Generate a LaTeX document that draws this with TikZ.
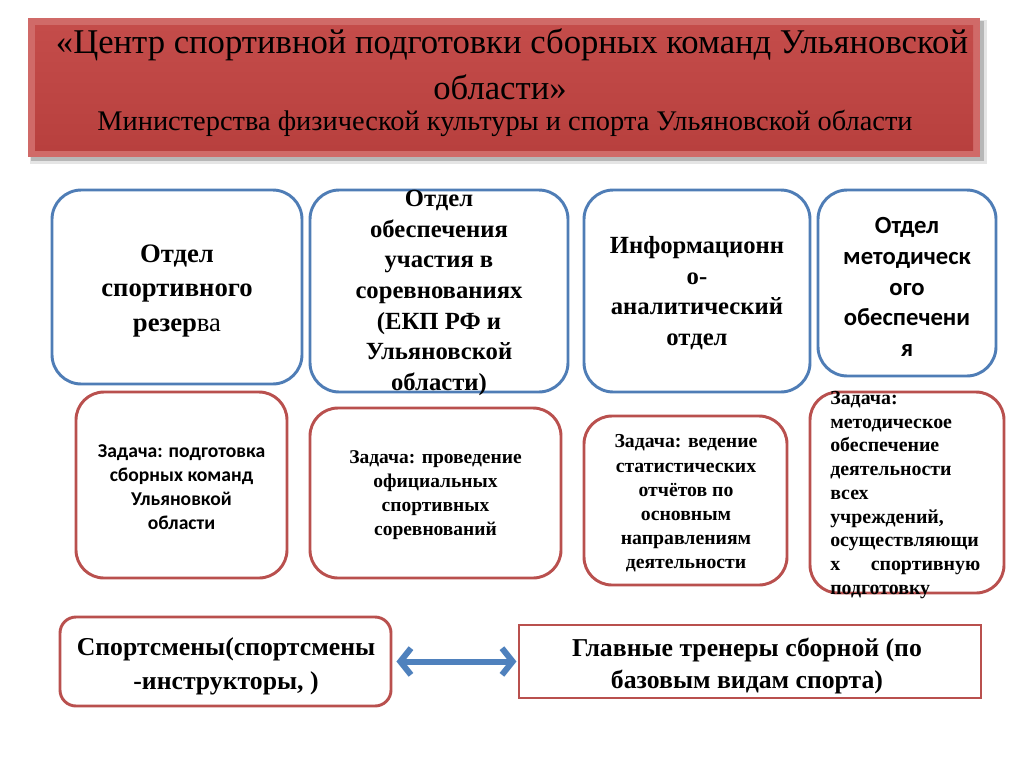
\documentclass[tikz,border=0pt]{standalone}
\usepackage{fontspec}
\setmainfont{Liberation Serif}
\newfontfamily\calib{Carlito}
\usetikzlibrary{arrows.meta}
\definecolor{bluec}{HTML}{4F7DB6}
\definecolor{redc}{HTML}{B9504E}
\definecolor{bannerA}{HTML}{D06A68}
\definecolor{bannerB}{HTML}{C44C4A}
\definecolor{bannerC}{HTML}{B8403E}
\definecolor{arrowc}{HTML}{4F81BD}
\begin{document}
\begin{tikzpicture}[x=0.75pt,y=-0.75pt,
  bluebox/.style={draw=bluec, line width=2.2pt, rounded corners=22pt, fill=white, inner sep=0pt},
  redbox/.style={draw=redc, line width=2.2pt, rounded corners=21pt, fill=white, inner sep=0pt},
  plainbox/.style={draw=redc, line width=1.8pt, fill=white, inner sep=0pt},
  txt/.style={align=center, inner sep=0pt, text=black},
  dblarrow/.style={draw=arrowc, line width=4.5pt, {Straight Barb[length=8pt,width=20pt]}-{Straight Barb[length=8pt,width=20pt]}}
]
\useasboundingbox (0,0) rectangle (1024,768);
\fill[white] (0,0) rectangle (1024,768);
% banner
\fill[black, opacity=0.2] (31,21) rectangle (984,161);
\fill[black, opacity=0.1] (30,20) rectangle (987,164);
\node[fill=bannerA, minimum width=714pt, minimum height=104.25pt, inner sep=0pt] (banner) at (504,87.5) {};
\shade[top color=bannerB, bottom color=bannerC] (35,25) rectangle (973,150);
\node[txt, anchor=center, font={\fontsize{26}{26}\selectfont}] (t1) at (512,45) {«Центр спортивной подготовки сборных команд Ульяновской};
\node[txt, anchor=center, font={\fontsize{26}{26}\selectfont}] (t2) at (500,87) {области»};
\node[txt, anchor=center, font={\fontsize{21.3}{24}\selectfont}] (t3) at (505,123) {Министерства физической культуры и спорта Ульяновской области};
% blue boxes
\node[bluebox, minimum width=187.5pt, minimum height=145.5pt] (b1) at (177,287) {};
\node[bluebox, minimum width=193.5pt, minimum height=151.5pt] (b2) at (439,291) {};
\node[bluebox, minimum width=169.5pt, minimum height=151.5pt] (b3) at (697,291) {};
\node[bluebox, minimum width=133.5pt, minimum height=139.5pt] (b4) at (907,283) {};
\node[txt, font={\bfseries\fontsize{20}{26}\selectfont}] (b1t) at (177,291) {Отдел\\спортивного\\резер\mdseries ва};
\node[txt, font={\bfseries\fontsize{18.5}{23}\selectfont}] (b2t) at (439,293) {Отдел\\обеспечения\\участия в\\соревнованиях\\(ЕКП РФ и\\Ульяновской\\области)};
\node[txt, font={\bfseries\fontsize{18.5}{23}\selectfont}] (b3t) at (697,293) {Информационн\\о-\\аналитический\\отдел};
\node[txt, font={\calib\bfseries\fontsize{18.5}{23}\selectfont}] (b4t) at (907,287) {Отдел\\методическ\\ого\\обеспечени\\я};
% red boxes
\node[redbox, minimum width=158.25pt, minimum height=139.5pt] (r1) at (181.5,485) {};
\node[redbox, minimum width=188.25pt, minimum height=127.5pt] (r2) at (435.5,493) {};
\node[redbox, minimum width=152.25pt, minimum height=126.75pt] (r3) at (685.5,500.5) {};
\node[redbox, minimum width=145.5pt, minimum height=150.75pt] (r4) at (907,492.5) {};
\node[txt, font={\calib\bfseries\fontsize{14.7}{18}\selectfont}] (r1t) at (181.5,487) {Задача: подготовка\\сборных команд\\Ульяновкой\\области};
\node[txt, font={\bfseries\fontsize{14.6}{18}\selectfont}] (r2t) at (435.5,495) {Задача: проведение\\официальных\\спортивных\\соревнований};
\node[txt, font={\bfseries\fontsize{14.8}{18.1}\selectfont}] (r3t) at (686,503.5) {Задача: ведение\\статистических\\отчётов по\\основным\\направлениям\\деятельности};
\node[txt, align=left, anchor=west, font={\bfseries\fontsize{14.9}{17.8}\selectfont}] (r4t) at (830,495) {Задача:\\методическое\\обеспечение\\деятельности\\всех\\учреждений,\\осуществляющи\\\makebox[112.5pt][s]{х\hfill спортивную}\\подготовку};
% bottom
\node[redbox, rounded corners=12pt, minimum width=248.25pt, minimum height=66.75pt] (s1) at (225.5,661.5) {};
\node[plainbox, minimum width=346.5pt, minimum height=54.75pt] (s2) at (750,661.5) {};
\node[txt, font={\bfseries\fontsize{19.3}{26}\selectfont}] (s1t) at (226,666.5) {Спортсмены(спортсмены\\-инструкторы, )};
\node[txt, font={\bfseries\fontsize{19.3}{24}\selectfont}] (s2t) at (747,666) {Главные тренеры сборной (по\\базовым видам спорта)};
\draw[dblarrow, shorten <=3pt, shorten >=1pt] (s1.east) -- (s2.west);
\end{tikzpicture}
\end{document}
